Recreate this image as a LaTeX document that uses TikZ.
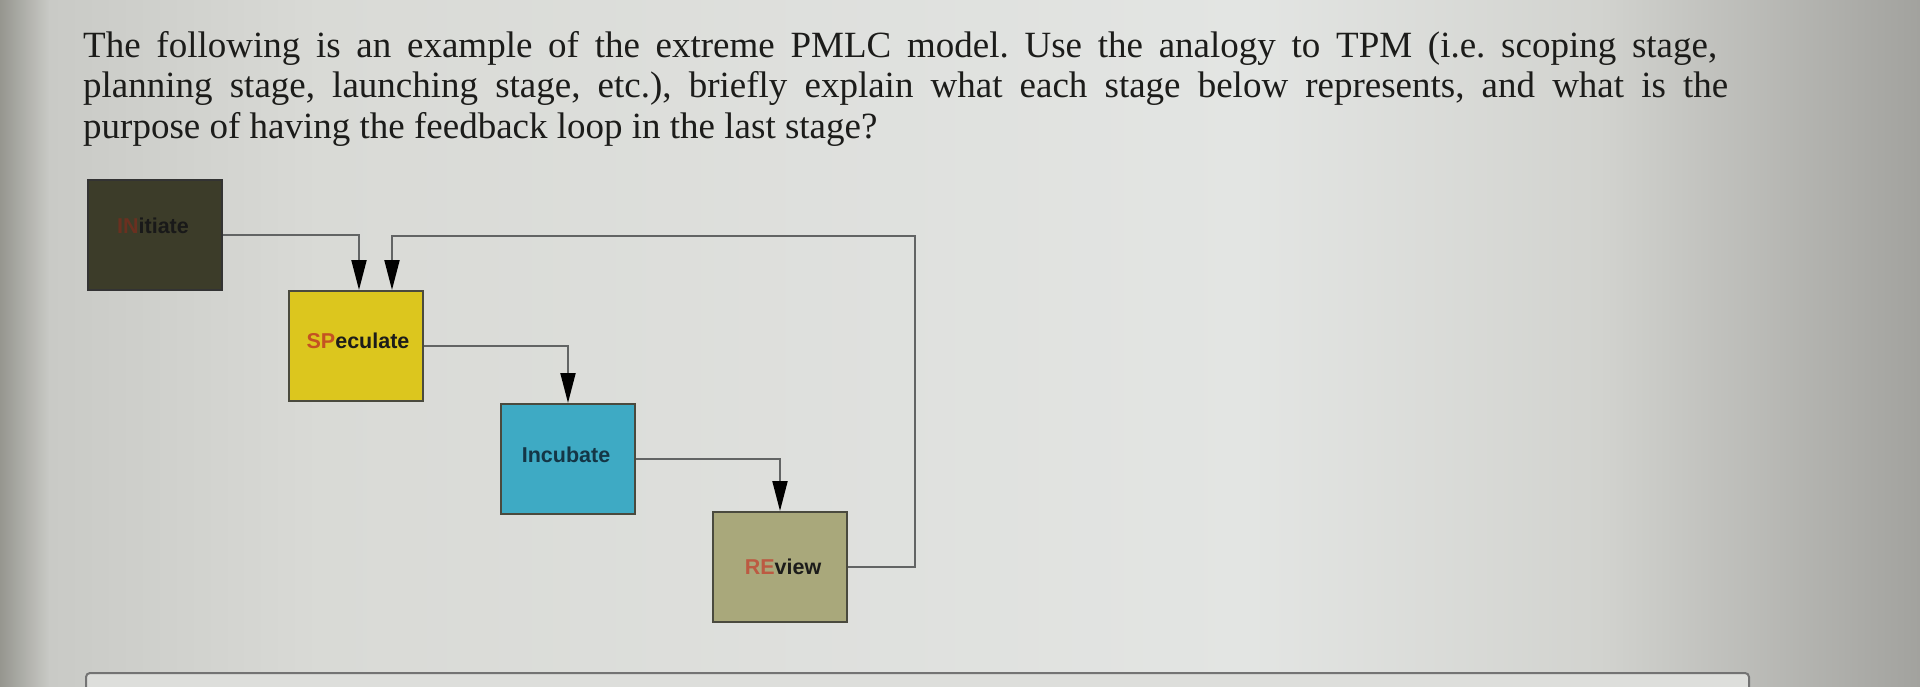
\documentclass[tikz,border=0pt]{standalone}
\usepackage{fontspec}
\setmainfont{Liberation Serif}
\newfontfamily\labfont{Liberation Sans}
\usetikzlibrary{arrows.meta}
\definecolor{bgEdge}{HTML}{96968F}
\definecolor{bgL}{HTML}{C9CAC6}
\definecolor{bgM}{HTML}{D9DAD6}
\definecolor{bgC}{HTML}{E3E5E3}
\definecolor{bgR}{HTML}{D2D3CF}
\definecolor{bgRE}{HTML}{A2A29E}
\definecolor{txt}{HTML}{1C1C1A}
\definecolor{initFill}{HTML}{3C3C29}
\definecolor{specFill}{HTML}{DCC61E}
\definecolor{incuFill}{HTML}{3EAAC4}
\definecolor{revFill}{HTML}{A9A87B}
\definecolor{boxLine}{HTML}{4A4A3E}
\definecolor{lineGray}{HTML}{626464}
\definecolor{redA}{HTML}{C45222}
\definecolor{redB}{HTML}{BC5A42}
\definecolor{redC}{HTML}{6A3020}
\definecolor{incuTxt}{HTML}{143646}
\tikzset{
  stagebox/.style={draw=boxLine, line width=2pt, minimum width=134pt, minimum height=110pt, inner sep=0pt},
  stagetxt/.style={font=\labfont\bfseries\fontsize{21.5}{24}\selectfont, inner sep=0pt, text=txt},
  qline/.style={anchor=base west, inner sep=0pt, text=txt, font=\frenchspacing\fontsize{37}{44}\selectfont},
  conn/.style={draw=lineGray, line width=2pt, -{Triangle[width=15pt,length=30pt,color=black]}}
}
\begin{document}
\begin{tikzpicture}[x=1pt,y=-1pt]
\useasboundingbox (0,0) rectangle (1920,686);
\clip (0,0) rectangle (1920,686);
% photographed page background
\fill[left color=bgEdge, right color=bgL] (0,0) rectangle (50,686);
\fill[left color=bgL, right color=bgM] (49.5,0) rectangle (320,686);
\fill[left color=bgM, right color=bgC] (319.5,0) rectangle (1250,686);
\fill[left color=bgC, right color=bgR] (1249.5,0) rectangle (1600,686);
\fill[left color=bgR, right color=bgRE] (1599.5,0) rectangle (1920,686);
% question text
\node[qline] (q1) at (83,57) {\makebox[1634pt][s]{The following is an example of the extreme PMLC model. Use the analogy to TPM (i.e. scoping stage,}};
\node[qline] (q2) at (83,97) {\makebox[1645pt][s]{planning stage, launching stage, etc.), briefly explain what each stage below represents, and what is the}};
\node[qline] (q3) at (83,138) {purpose of having the feedback loop in the last stage?};
% stage boxes
\node[stagebox, fill=initFill, draw=black!80] (init) at (155,235) {};
\node[stagebox, fill=specFill] (spec) at (356,346) {};
\node[stagebox, fill=incuFill] (incu) at (568,459) {};
\node[stagebox, fill=revFill] (rev) at (780,567) {};
\node[stagetxt, text=black!90] (initT) at (153,226) {\textcolor{redC}{IN}itiate};
\node[stagetxt] (specT) at (358,341) {\textcolor{redA}{SP}eculate};
\node[stagetxt, text=incuTxt] (incuT) at (566,455) {Incubate};
\node[stagetxt] (revT) at (783,567) {\textcolor{redB}{RE}view};
% connectors
\coordinate (fb) at (915,236);
\draw[conn] (init.east) -| ([xshift=3pt]spec.north);
\draw[conn] (spec.east) -| (incu.north);
\draw[conn] (incu.east) -| (rev.north);
\draw[conn] (rev.east) -| (fb) -| ([xshift=36pt]spec.north);
% answer box edge
\draw[draw=black!55, line width=2pt, rounded corners=4pt, fill=bgM!60!bgC] (86,673) rectangle (1749,720);
\end{tikzpicture}
\end{document}
